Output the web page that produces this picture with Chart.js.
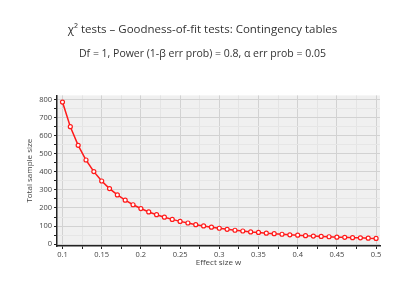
<!DOCTYPE html>
<html>
<head>
<meta charset="utf-8">
<script src="https://cdn.jsdelivr.net/npm/chart.js@4"></script>
<style>
  html, body { margin: 0; padding: 0; background: #fff; }
  #wrap { width: 407px; height: 300px; position: relative; }
</style>
</head>
<body>
<div id="wrap"><canvas id="chart"></canvas></div>
<script>
const effectSizes = [0.10, 0.11, 0.12, 0.13, 0.14, 0.15, 0.16, 0.17, 0.18, 0.19,
  0.20, 0.21, 0.22, 0.23, 0.24, 0.25, 0.26, 0.27, 0.28, 0.29,
  0.30, 0.31, 0.32, 0.33, 0.34, 0.35, 0.36, 0.37, 0.38, 0.39,
  0.40, 0.41, 0.42, 0.43, 0.44, 0.45, 0.46, 0.47, 0.48, 0.49, 0.50];
const sampleSizes = [785, 649, 546, 465, 401, 349, 307, 272, 243, 218,
  197, 178, 163, 149, 137, 126, 117, 108, 101, 94,
  88, 82, 77, 73, 68, 65, 61, 58, 55, 52,
  50, 47, 45, 43, 41, 39, 38, 36, 35, 33, 32];
const xMajorTicks = [0.1, 0.15, 0.2, 0.25, 0.3, 0.35, 0.4, 0.45, 0.5];
const xMinorTicks = [0.125, 0.175, 0.225, 0.275, 0.325, 0.375, 0.425, 0.475];
const yMajorTicks = [0, 100, 200, 300, 400, 500, 600, 700, 800];
const yMinorTicks = [50, 150, 250, 350, 450, 550, 650, 750];

const FONT = "'Open Sans', 'DejaVu Sans', sans-serif";

const plotBackground = {
  id: "plotBackground",
  beforeDraw(chart) {
    const { ctx, chartArea } = chart;
    ctx.save();
    ctx.fillStyle = "#f0f0f0";
    ctx.fillRect(chartArea.left, chartArea.top,
      chartArea.right - chartArea.left, chartArea.bottom - chartArea.top);
    ctx.restore();
  },
};

function isMinor(ctx, minors) {
  return ctx.tick && minors.includes(ctx.tick.value);
}

new Chart(document.getElementById("chart"), {
  type: "line",
  data: {
    datasets: [{
      data: effectSizes.map((x, i) => ({ x, y: sampleSizes[i] })),
      borderColor: "#ff1a1a",
      borderWidth: 1.5,
      pointRadius: 2,
      pointBorderWidth: 1.2,
      pointBackgroundColor: "#ffffff",
      pointBorderColor: "#ff1a1a",
      tension: 0,
    }],
  },
  options: {
    responsive: true,
    maintainAspectRatio: false,
    animation: false,
    layout: { padding: { left: 25, right: 27, top: 0, bottom: 32 } },
    plugins: {
      legend: { display: false },
      tooltip: { enabled: false },
      title: {
        display: true,
        text: "χ² tests – Goodness-of-fit tests: Contingency tables",
        color: "#333",
        font: { family: FONT, size: 11.5, weight: "normal" },
        padding: { top: 23, bottom: 4 },
      },
      subtitle: {
        display: true,
        text: "Df = 1, Power (1-β err prob) = 0.8, α err prob = 0.05",
        color: "#333",
        font: { family: FONT, size: 10.5 },
        padding: { top: 7, bottom: 35 },
      },
    },
    scales: {
      x: {
        type: "linear",
        min: 0.093,
        max: 0.505,
        afterBuildTicks(scale) {
          scale.ticks = xMajorTicks.concat(xMinorTicks).map((v) => ({ value: v }));
        },
        afterFit(scale) { scale.height = 22; },
        border: { color: "#222", width: 1.5 },
        grid: {
          color: (ctx) => isMinor(ctx, xMinorTicks) ? "#e4e4e4" : "#d2d2d2",
          tickColor: "#222",
          tickLength: 3,
        },
        ticks: {
          color: "#444",
          font: { family: FONT, size: 7.5 },
          padding: 1,
          maxRotation: 0,
          autoSkip: false,
          callback: (v) => xMajorTicks.includes(v) ? String(v) : "",
        },
        title: {
          display: true,
          text: "Effect size w",
          color: "#444",
          font: { family: FONT, size: 8 },
          padding: { top: 0, bottom: 0 },
        },
      },
      y: {
        type: "linear",
        min: -10,
        max: 822,
        afterBuildTicks(scale) {
          scale.ticks = yMajorTicks.concat(yMinorTicks).map((v) => ({ value: v }));
        },
        afterFit(scale) { scale.width = 32; },
        border: { color: "#222", width: 1.5 },
        grid: {
          color: (ctx) => isMinor(ctx, yMinorTicks) ? "#e6e6e6" : "#d2d2d2",
          tickColor: "#222",
          tickLength: 3,
        },
        ticks: {
          color: "#444",
          font: { family: FONT, size: 7.5 },
          padding: 2,
          autoSkip: false,
          callback: (v) => yMajorTicks.includes(v) ? String(v) : "",
        },
        title: {
          display: true,
          text: "Total sample size",
          color: "#444",
          font: { family: FONT, size: 8 },
          padding: { top: 0, bottom: 2 },
        },
      },
    },
  },
  plugins: [plotBackground],
});
</script>
</body>
</html>
